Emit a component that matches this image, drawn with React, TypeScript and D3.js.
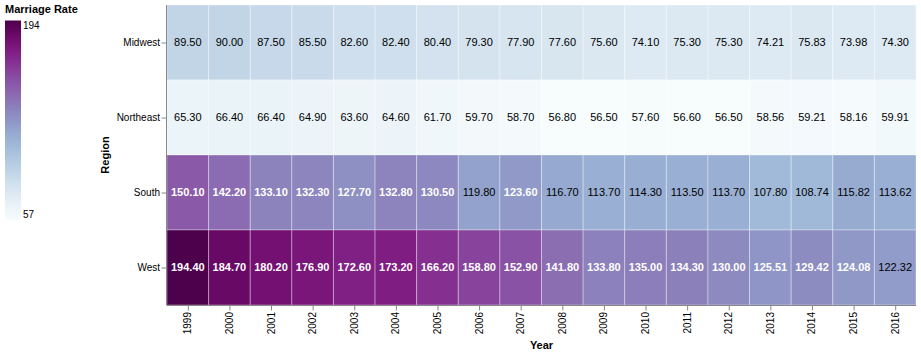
import React from "react";
import * as d3 from "d3";

const years = ["1999","2000","2001","2002","2003","2004","2005","2006","2007","2008","2009","2010","2011","2012","2013","2014","2015","2016"];
const regions = ["Midwest", "Northeast", "South", "West"];
const midwest = [89.5, 90.0, 87.5, 85.5, 82.6, 82.4, 80.4, 79.3, 77.9, 77.6, 75.6, 74.1, 75.3, 75.3, 74.21, 75.83, 73.98, 74.3];
const northeast = [65.3, 66.4, 66.4, 64.9, 63.6, 64.6, 61.7, 59.7, 58.7, 56.8, 56.5, 57.6, 56.6, 56.5, 58.56, 59.21, 58.16, 59.91];
const south = [150.1, 142.2, 133.1, 132.3, 127.7, 132.8, 130.5, 119.8, 123.6, 116.7, 113.7, 114.3, 113.5, 113.7, 107.8, 108.74, 115.82, 113.62];
const west = [194.4, 184.7, 180.2, 176.9, 172.6, 173.2, 166.2, 158.8, 152.9, 141.8, 133.8, 135.0, 134.3, 130.0, 125.51, 129.42, 124.08, 122.32];
const seriesByRegion: Record<string, number[]> = { Midwest: midwest, Northeast: northeast, South: south, West: west };

const W = 921, H = 358;
const FONT = "Arial, 'Liberation Sans', sans-serif";

export default function App() {
  const plot = { left: 167, right: 916, top: 5, bottom: 305 };
  const x = d3.scaleBand<string>().domain(years).range([plot.left, plot.right]);
  const y = d3.scaleBand<string>().domain(regions).range([plot.top, plot.bottom]);
  const all = regions.flatMap((r) => seriesByRegion[r]);
  const vmin = d3.min(all) as number;
  const vmax = d3.max(all) as number;
  const color = d3.scaleSequential(d3.interpolateBuPu).domain([vmin, vmax]);

  const legend = { x: 5, y: 20.5, w: 16, h: 200 };
  const stops = d3.range(0, 1.0001, 0.05);

  const cells: any[] = [];
  regions.forEach((r) => {
    seriesByRegion[r].forEach((v, i) => cells.push({ r, yr: years[i], v }));
  });

  return (
    <svg width={W} height={H} style={{ position: "absolute", left: 0, top: 0, background: "#fff" }} fontFamily={FONT}>
      <defs>
        <linearGradient id="lg" x1="0" y1="1" x2="0" y2="0">
          {stops.map((t) => (
            <stop key={t} offset={t} stopColor={d3.interpolateBuPu(t)} />
          ))}
        </linearGradient>
      </defs>
      {/* legend */}
      <text x={5} y={13} fontSize={11} fontWeight="bold" fill="#000">Marriage Rate</text>
      <rect x={legend.x} y={legend.y} width={legend.w} height={legend.h} fill="url(#lg)" />
      <text x={23} y={29} fontSize={10} fill="#000">{d3.format(".0f")(vmax)}</text>
      <text x={23} y={218} fontSize={10} fill="#000">{d3.format(".0f")(vmin + 0.5)}</text>

      {/* cells */}
      {cells.map((c, i) => (
        <rect
          key={i}
          x={x(c.yr)}
          y={y(c.r)}
          width={x.bandwidth()}
          height={y.bandwidth()}
          fill={color(c.v)}
          stroke="#fff"
          strokeOpacity={0.35}
          strokeWidth={1}
        />
      ))}
      {cells.map((c, i) => {
        const dark = c.v > 123;
        return (
          <text
            key={"t" + i}
            x={(x(c.yr) as number) + x.bandwidth() / 2}
            y={(y(c.r) as number) + y.bandwidth() / 2}
            dy="0.35em"
            textAnchor="middle"
            fontSize={11}
            fontWeight={dark ? "bold" : "normal"}
            fill={dark ? "#fff" : "#000"}
          >
            {d3.format(".2f")(c.v)}
          </text>
        );
      })}

      {/* y axis */}
      <line x1={plot.left - 0.5} x2={plot.left - 0.5} y1={plot.top} y2={plot.bottom} stroke="#888" />
      {regions.map((r) => {
        const yy = (y(r) as number) + y.bandwidth() / 2;
        return (
          <g key={r}>
            <line x1={plot.left - 5.5} x2={plot.left - 0.5} y1={yy + 0.5} y2={yy + 0.5} stroke="#888" />
            <text x={plot.left - 7} y={yy} dy="0.35em" textAnchor="end" fontSize={10} fill="#000">{r}</text>
          </g>
        );
      })}
      <text transform={`translate(109,${(plot.top + plot.bottom) / 2}) rotate(-90)`} textAnchor="middle" fontSize={11} fontWeight="bold" fill="#000">Region</text>

      {/* x axis */}
      <line x1={plot.left - 0.5} x2={plot.right} y1={plot.bottom + 0.5} y2={plot.bottom + 0.5} stroke="#888" />
      {years.map((yr) => {
        const xx = (x(yr) as number) + x.bandwidth() / 2;
        return (
          <g key={yr}>
            <line x1={xx + 0.5} x2={xx + 0.5} y1={plot.bottom + 0.5} y2={plot.bottom + 5.5} stroke="#888" />
            <text transform={`translate(${xx},${plot.bottom + 7}) rotate(-90)`} dy="0.35em" textAnchor="end" fontSize={10} fill="#000">{yr}</text>
          </g>
        );
      })}
      <text x={(plot.left + plot.right) / 2} y={349} textAnchor="middle" fontSize={11} fontWeight="bold" fill="#000">Year</text>
    </svg>
  );
}
